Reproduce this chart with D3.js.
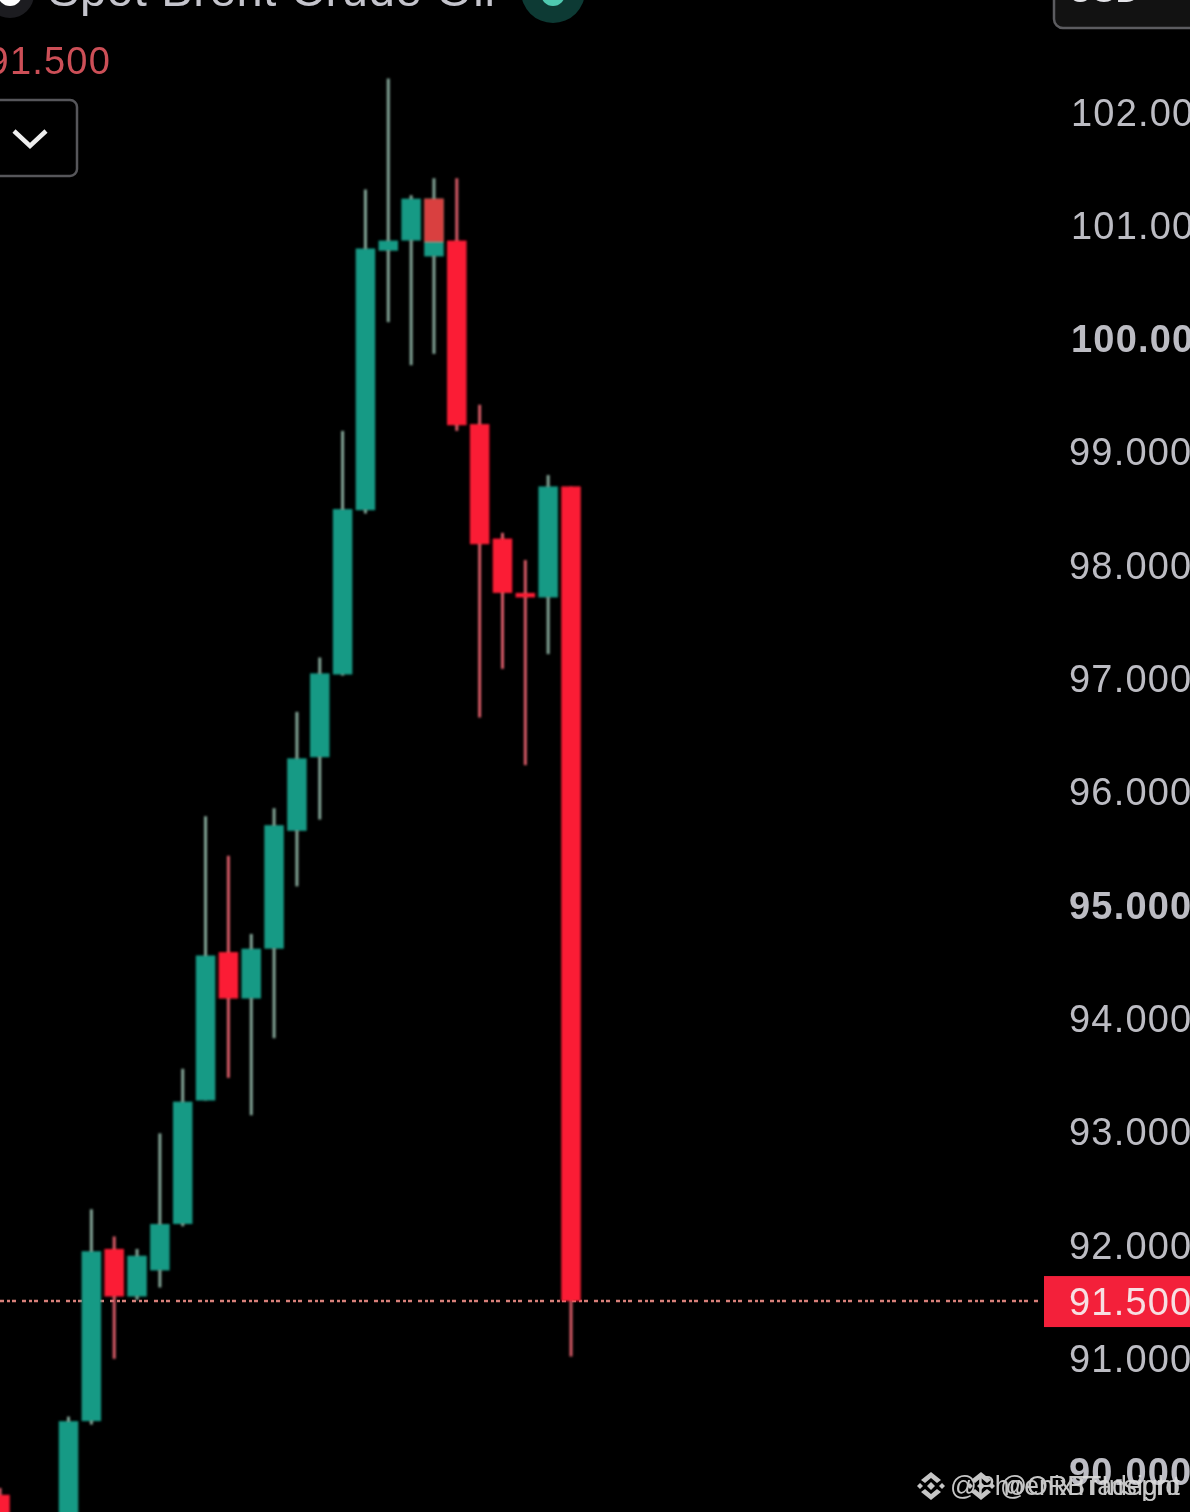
<!DOCTYPE html>
<html>
<head>
	<meta charset="utf-8">
	<script src="https://d3js.org/d3.v7.min.js"></script>
	<style>
		html, body { margin: 0; padding: 0; background: #000; overflow: hidden; }
		svg { display: block; }
		text { font-family: "Liberation Sans", Arial, sans-serif; }
	</style>
</head>
<body>
	<div id="chart"></div>
	<script>

	// The svg
	var width = 1190,
	height = 1512;

	// candle slots, left to right (slots 1 and 2 are below the visible area)
	var slots  = [0, 3, 4, 5, 6, 7, 8, 9, 10, 11, 12, 13, 14, 15, 16, 17, 18, 19, 20, 21, 22, 23, 24, 25];
	var opens  = [89.79, 89.30, 90.44, 91.96, 91.54, 91.77, 92.18, 93.27, 94.58, 94.17, 94.61, 95.65, 96.30, 97.03, 98.48, 100.77, 100.86, 100.72, 100.86, 99.24, 98.23, 97.75, 97.71, 98.69];
	var closes = [89.20, 90.44, 91.94, 91.54, 91.90, 92.18, 93.26, 94.55, 94.17, 94.61, 95.70, 96.29, 97.04, 98.49, 100.79, 100.86, 101.23, 101.23, 99.23, 98.18, 97.75, 97.71, 98.69, 91.50];
	var highs  = [89.85, 90.48, 92.31, 92.07, 91.96, 92.98, 93.55, 95.78, 95.43, 94.74, 95.85, 96.70, 97.18, 99.18, 101.31, 102.29, 101.26, 101.41, 101.41, 99.41, 98.28, 98.04, 98.79, 98.69];
	var lows   = [89.10, 89.20, 90.41, 90.99, 91.51, 91.62, 92.16, 93.27, 93.47, 93.14, 93.82, 95.16, 95.75, 97.02, 98.45, 100.14, 99.76, 99.86, 99.18, 96.65, 97.08, 96.23, 97.21, 91.01];

	// the muted red block painted over the green candle in slot 19
	var overlaySlot = [19];
	var overlayTop = [101.23];
	var overlayBottom = [100.85];

	var tickValues = [90, 91, 92, 93, 94, 95, 96, 97, 98, 99, 100, 101, 102];
	var boldTicks = [90, 95, 100];
	var lastPrice = 91.5;

	var candles = slots.map(function(s, i) {
		return {slot: s, open: opens[i], close: closes[i], high: highs[i], low: lows[i]};
	});

	var green = "#189a85", red = "#fb1c34";
	var greenWick = "#83a597", redWick = "#d65a66";

	var svg = d3.select("#chart").append("svg")
		.attr("width", width)
		.attr("height", height);

	var defs = svg.append("defs");
	defs.append("filter").attr("id", "soft")
		.attr("x", "-50%").attr("width", "200%")
		.append("feGaussianBlur").attr("stdDeviation", 0.8);
	defs.append("filter").attr("id", "softText")
		.append("feGaussianBlur").attr("stdDeviation", 0.45);

	svg.append("rect").attr("width", width).attr("height", height).attr("fill", "#000");

	// Scales
	var x = d3.scaleLinear().domain([0, 25]).range([0, 571]);
	var y = d3.scaleLinear().domain([90, 102]).range([1471, 111.4]);
	var bodyWidth = 19.5;

	// Last price line
	svg.append("line")
		.attr("x1", 0).attr("x2", 1040)
		.attr("y1", y(lastPrice)).attr("y2", y(lastPrice))
		.attr("stroke", "#d8807a")
		.attr("stroke-width", 2.4)
		.attr("stroke-dasharray", "4 3 3 2 4 6");

	// Candles
	var g = svg.append("g").attr("filter", "url(#soft)");

	g.selectAll("line.wick")
		.data(candles)
		.join("line")
			.attr("class", "wick")
			.attr("x1", d => x(d.slot))
			.attr("x2", d => x(d.slot))
			.attr("y1", d => y(d.high))
			.attr("y2", d => y(d.low))
			.attr("stroke", d => d.close >= d.open ? greenWick : redWick)
			.attr("stroke-width", 3);

	g.selectAll("rect.body")
		.data(candles)
		.join("rect")
			.attr("class", "body")
			.attr("x", d => x(d.slot) - bodyWidth / 2)
			.attr("width", bodyWidth)
			.attr("y", d => y(Math.max(d.open, d.close)))
			.attr("height", d => Math.abs(y(d.open) - y(d.close)))
			.attr("fill", d => d.close >= d.open ? green : red);

	g.selectAll("rect.overlay")
		.data(overlaySlot)
		.join("rect")
			.attr("class", "overlay")
			.attr("x", d => x(d) - bodyWidth / 2)
			.attr("width", bodyWidth)
			.attr("y", (d, i) => y(overlayTop[i]))
			.attr("height", (d, i) => y(overlayBottom[i]) - y(overlayTop[i]))
			.attr("fill", "#d9403f");

	// Price axis
	var axis = d3.axisRight(y)
		.tickValues(tickValues)
		.tickSize(0)
		.tickPadding(0)
		.tickFormat(d3.format(".3f"));

	var axisG = svg.append("g")
		.attr("transform", "translate(1069,1.5)")
		.attr("filter", "url(#softText)")
		.call(axis);
	axisG.select(".domain").remove();
	axisG.selectAll("text")
		.attr("x", d => d >= 100 ? 2 : 0)
		.attr("fill", "#bcbcc3")
		.attr("font-size", 38)
		.attr("letter-spacing", 1.2)
		.attr("font-weight", d => boldTicks.indexOf(d) >= 0 ? "bold" : "normal");

	// Last price tag
	svg.append("rect")
		.attr("x", 1044).attr("y", y(lastPrice) - 25)
		.attr("width", 146).attr("height", 51)
		.attr("fill", "#f3203a");
	svg.append("text")
		.attr("x", 1069).attr("y", y(lastPrice) + 1.5)
		.attr("dy", ".32em")
		.attr("fill", "#f7dfe2")
		.attr("font-size", 38)
		.attr("letter-spacing", 1.2)
		.text(d3.format(".3f")(lastPrice));

	// Header, cut by the top of the picture
	svg.append("circle").attr("cx", 10).attr("cy", -6).attr("r", 24).attr("fill", "#1c1c20");
	svg.append("circle").attr("cx", 10).attr("cy", -6).attr("r", 12).attr("fill", "#fff");
	svg.append("text")
		.attr("x", 48).attr("y", 6)
		.attr("fill", "#c4c4cc")
		.attr("font-size", 47)
		.attr("letter-spacing", 0.7)
		.text("Spot Brent Crude Oil");
	svg.append("circle").attr("cx", 553).attr("cy", -9).attr("r", 32).attr("fill", "#0d3a34");
	svg.append("circle").attr("cx", 553).attr("cy", -6).attr("r", 12).attr("fill", "#4fc9b0");

	svg.append("text")
		.attr("x", 111).attr("y", 74)
		.attr("text-anchor", "end")
		.attr("fill", "#cc4f57")
		.attr("font-size", 38)
		.attr("letter-spacing", 1.2)
		.text("91.500");

	svg.append("rect")
		.attr("x", -20).attr("y", 100)
		.attr("width", 97).attr("height", 76)
		.attr("rx", 7)
		.attr("fill", "#000")
		.attr("stroke", "#56565a")
		.attr("stroke-width", 2.5);
	svg.append("path")
		.attr("d", d3.line()([[14, 131], [30, 146], [46, 131]]))
		.attr("fill", "none")
		.attr("stroke", "#eee")
		.attr("stroke-width", 4.5);

	svg.append("rect")
		.attr("x", 1054).attr("y", -40)
		.attr("width", 170).attr("height", 68)
		.attr("rx", 9)
		.attr("fill", "#121212")
		.attr("stroke", "#5c5c60")
		.attr("stroke-width", 2.5);
	svg.append("text")
		.attr("x", 1068).attr("y", 2)
		.attr("fill", "#e4e4e8")
		.attr("font-size", 34)
		.text("USD");

	// Watermarks, one stamped over the other
	var marks = [
		{x: 931, y: 1486, label: "@PhoenixTradepro", textX: 950},
		{x: 981, y: 1486, label: "@ORBTInsight", textX: 1000}
	];
	var wm = svg.append("g").attr("fill", "#dcdcdc").attr("opacity", 0.9);
	var diamond = d => "M" + (d[0] - d[2]) + "," + d[1] + "L" + d[0] + "," + (d[1] - d[2]) + "L" + (d[0] + d[2]) + "," + d[1] + "L" + d[0] + "," + (d[1] + d[2]) + "Z";
	marks.forEach(function(m) {
		wm.append("path").attr("d", diamond([m.x, m.y, 4]));
		wm.append("path").attr("d", diamond([m.x - 11, m.y, 3]));
		wm.append("path").attr("d", diamond([m.x + 11, m.y, 3]));
		wm.append("path").attr("d", "M" + (m.x - 10) + "," + (m.y - 6) + "L" + m.x + "," + (m.y - 14) + "L" + (m.x + 10) + "," + (m.y - 6) + "L" + (m.x + 6) + "," + (m.y - 3) + "L" + m.x + "," + (m.y - 8) + "L" + (m.x - 6) + "," + (m.y - 3) + "Z");
		wm.append("path").attr("d", "M" + (m.x - 10) + "," + (m.y + 6) + "L" + m.x + "," + (m.y + 14) + "L" + (m.x + 10) + "," + (m.y + 6) + "L" + (m.x + 6) + "," + (m.y + 3) + "L" + m.x + "," + (m.y + 8) + "L" + (m.x - 6) + "," + (m.y + 3) + "Z");
		wm.append("text")
			.attr("x", m.textX).attr("y", m.y + 9)
			.attr("font-size", 27)
			.attr("textLength", 1180 - m.textX)
			.attr("lengthAdjust", "spacingAndGlyphs")
			.text(m.label);
	});

</script>
</body>
</html>
